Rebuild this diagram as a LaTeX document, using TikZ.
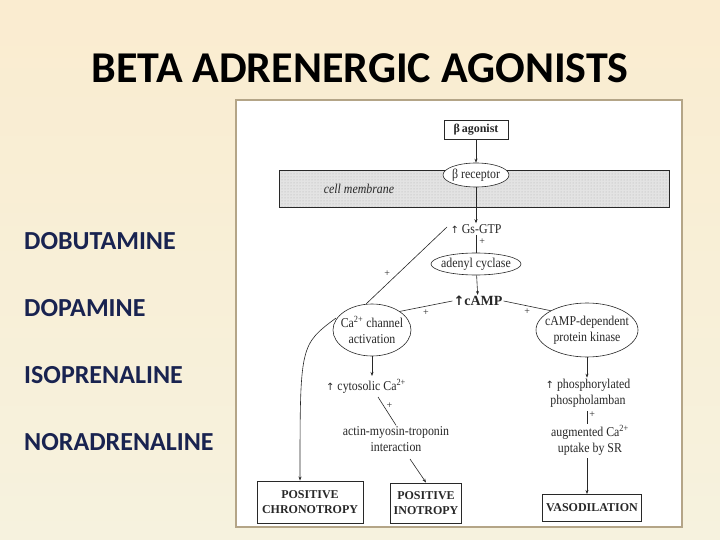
\documentclass[tikz,border=0pt]{standalone}
\usepackage{fontspec}
\setmainfont{Liberation Serif}
\newfontfamily\carl{Carlito}
\newfontfamily\dv{DejaVu Sans}
\newfontfamily\cond[FakeStretch=0.88]{Liberation Serif}
\usetikzlibrary{shapes.geometric,arrows.meta,patterns}
\definecolor{listblue}{RGB}{25,35,80}
\definecolor{frame}{RGB}{180,165,135}
\definecolor{ink}{RGB}{40,40,40}
\newcommand{\up}{{\dv\fontsize{10}{10}\selectfont↑}}
\begin{document}
\begin{tikzpicture}[x=1pt,y=-1pt,
  txt/.style={font=\cond\fontsize{13.5}{16}\selectfont,text=ink,align=center,inner sep=1pt},
  ell/.style={ellipse,draw=ink,line width=0.6pt,inner sep=0pt},
  bx/.style={draw=ink,line width=0.9pt,font=\bfseries\fontsize{12}{15}\selectfont,align=center,text=ink},
  ln/.style={draw=ink,line width=0.6pt},
  ar/.style={ln,-{Stealth[length=4pt,width=3pt]}},
  pl/.style={font=\fontsize{10}{10}\selectfont,text=ink,inner sep=0pt},
  lst/.style={font=\carl\bfseries\fontsize{26}{28}\selectfont,text=listblue,anchor=west,inner sep=0pt}]
\useasboundingbox (0,0) rectangle (720,540);
\shade[top color={rgb,255:red,250;green,236;blue,208},bottom color={rgb,255:red,246;green,242;blue,222}] (0,0) rectangle (720,540);
\node[font=\carl\bfseries\fontsize{44}{48}\selectfont,text=black] (title) at (360,68) {BETA ADRENERGIC AGONISTS};
\node[lst] (l1) at (24,241) {DOBUTAMINE};
\node[lst] (l2) at (24,308) {DOPAMINE};
\node[lst] (l3) at (24,375) {ISOPRENALINE};
\node[lst] (l4) at (24,442) {NORADRENALINE};
\fill[white,draw=frame,line width=1.5pt] (236,100) rectangle (682,527);
% membrane
\fill[gray!22] (279,170) rectangle (669,207);
\fill[pattern=dots,pattern color=gray!60] (279,170) rectangle (669,207);
\draw[ink,line width=0.6pt] (279,170) rectangle (669,207);
\node[txt,font=\cond\itshape\fontsize{13.5}{15}\selectfont] (cm) at (359,189) {cell membrane};
\node[bx,minimum width=64pt,minimum height=19pt,inner sep=1pt] (ag) at (476,130) {β\,agonist};
\node[ell,fill=white,minimum width=66pt,minimum height=24pt,label={[txt]center:β receptor}] (rec) at (476,175) {};
\node[txt] (gs) at (476,229) {\up\ Gs-GTP};
\coordinate (gsl) at (447,227);
\node[ell,minimum width=90pt,minimum height=22pt,label={[txt]center:adenyl cyclase}] (ac) at (476,264) {};
\node[txt,font=\bfseries\fontsize{14}{16}\selectfont] (camp) at (478,301) {{\dv\bfseries\fontsize{13}{13}\selectfont↑}cAMP};
\node[ell,minimum width=78pt,minimum height=52pt,label={[txt]center:Ca\textsuperscript{2+} channel\\activation}] (ca) at (372,330) {};
\node[ell,minimum width=102pt,minimum height=54pt,label={[txt]center:cAMP-dependent\\protein kinase}] (pk) at (587,330) {};
\node[txt] (cyt) at (366,386) {\up\ cytosolic Ca\textsuperscript{2+}};
\node[txt] (amt) at (396,439) {actin-myosin-troponin\\interaction};
\node[txt] (ph) at (588,393) {\up\ phosphorylated\\phospholamban};
\node[txt] (aug) at (590,440) {augmented Ca\textsuperscript{2+}\\uptake by SR};
\node[bx,minimum width=106pt,minimum height=42pt] (chr) at (310,502) {POSITIVE\\CHRONOTROPY};
\node[bx,minimum width=71pt,minimum height=40pt] (ino) at (426,503) {POSITIVE\\INOTROPY};
\node[bx,minimum width=99pt,minimum height=27pt] (vas) at (592,508) {VASODILATION};
\coordinate (cat) at (366,304);
\coordinate (cyb) at (378,397);
\coordinate (amb) at (410,459);
\coordinate (caw) at (336,318);
\coordinate (phb) at (587,411);
\coordinate (augt) at (587,424);
\coordinate (augb) at (587,458);
% connectors
\draw[ar] (ag) -- (rec);
\draw[ar] (rec) -- (gs);
\draw[ln] (gs) -- (ac) node[pl,pos=0.4,right=3pt] {+};
\draw[ar] (ac) -- (camp);
\draw[ln] (camp.west) -- (ca.north east) node[pl,pos=0.5,below=3pt] {+};
\draw[ln] (camp.east) -- (pk.north west) node[pl,pos=0.5,below=3pt] {+};
\draw[ln] (cat) -- (gsl) node[pl,pos=0.4,left=8pt] {+};
\draw[ar] (ca.south) -- (372,376);
\draw[ln] (cyb) -- (amt.north) node[pl,pos=0.3,right=3pt] {+};
\draw[ar] (amb) -- (ino.north);
\draw[ar] (caw) .. controls (300,345) .. (chr.north -| 300,0);
\draw[ar] (pk.south) -- (ph.north -| pk.south);
\draw[ln] (phb) -- (augt) node[pl,pos=0.3,right=2pt] {+};
\draw[ar] (augb) -- (vas.north -| augb);
\end{tikzpicture}
\end{document}
